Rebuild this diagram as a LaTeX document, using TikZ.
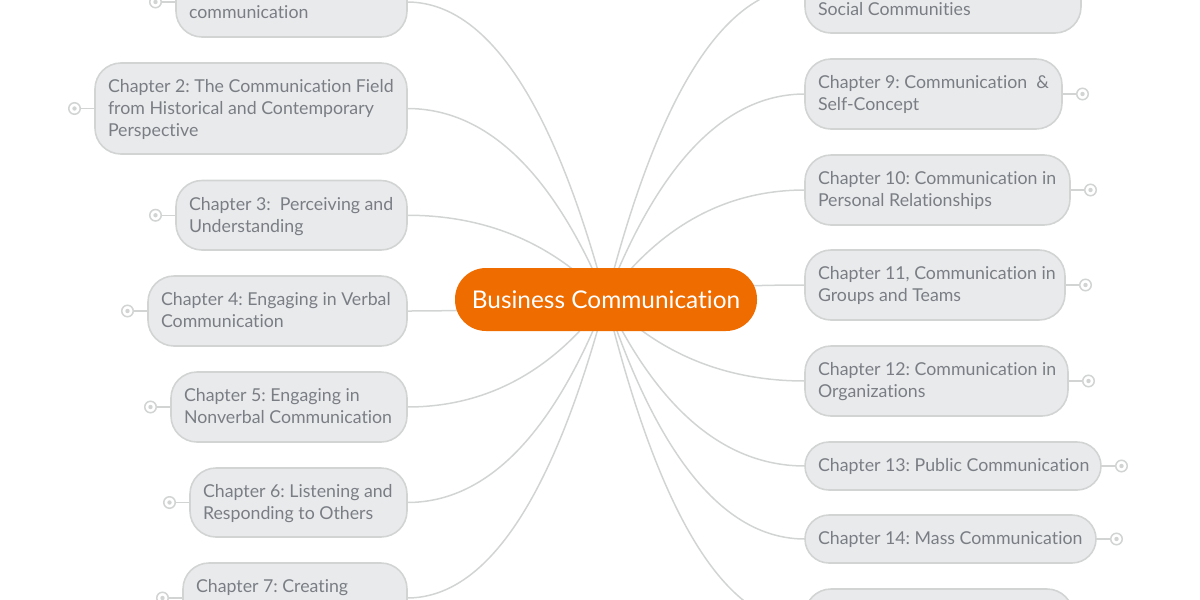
\documentclass[tikz,border=0pt]{standalone}
\usepackage{fontspec}
\setmainfont{Lato}[Ligatures=NoCommon]
\frenchspacing
\usetikzlibrary{calc,backgrounds}
\definecolor{boxfill}{HTML}{E9EAEC}
\definecolor{boxline}{HTML}{D2D4D4}
\definecolor{boxtext}{HTML}{7A7E84}
\definecolor{hubfill}{HTML}{EF6C00}
\tikzset{
  topic/.style={draw=boxline,fill=boxfill,line width=1.6pt,inner sep=0pt,outer sep=0pt,anchor=center},
  topiclabel/.style={text=boxtext,font=\fontsize{17.75}{22}\selectfont,align=flush left,inner sep=0pt,outer sep=0pt},
  hubnode/.style={fill=hubfill,rounded corners=31pt,inner sep=0pt,outer sep=0pt,text=white,
    font=\fontsize{24.4}{26}\selectfont,minimum width=302pt,minimum height=63pt},
  conn/.style={draw=boxline,line width=1.5pt},
  stub/.style={draw=boxline,line width=1.5pt},
  marker/.style={circle,draw=boxline,fill=white,line width=1.5pt,minimum size=11.5pt,inner sep=0pt,outer sep=0pt,
    path picture={\fill[boxline] (path picture bounding box.center) circle (2.2pt);}},
}
\newcommand{\tl}[1]{\leavevmode\strut\hbox{#1}}
% \topicnode{name}{left}{right}{top}{bottom}{text}
\newcommand{\topicnode}[6]{%
  \pgfmathsetmacro{\tw}{#3-#2}\pgfmathsetmacro{\th}{#5-#4}\pgfmathsetmacro{\tt}{#3-#2-27}%
  \pgfmathsetmacro{\tr}{min(26,(#5-#4)/2)}%
  \node[topic,rounded corners=\tr pt,minimum width=\tw pt,minimum height=\th pt] (#1) at ({(#2+#3)/2},{(#4+#5)/2}) {};
  \node[topiclabel,text width=\tt pt,xshift=-0.5pt,yshift=-1.5pt] (#1l) at (#1.center) {#6};}
\newcommand{\linkto}[2]{%
  \path let \p1=(hub.center),\p2=(#1.#2) in coordinate (c#1) at ({\x1+0.40*(\x2-\x1)},\y2);
  \draw[conn] (hub.center) .. controls ($(hub.center)!0.667!(c#1)$) and ($(#1.#2)!0.667!(c#1)$) .. (#1.#2);}
\newcommand{\lmark}[1]{%
  \node[marker] (m#1) at ($(#1.west)+(-20.5pt,0)$) {};
  \draw[stub] (#1.west) -- (m#1);}
\newcommand{\rmark}[1]{%
  \node[marker] (m#1) at ($(#1.east)+(20.5pt,0)$) {};
  \draw[stub] (#1.east) -- (m#1);}
\begin{document}
\begin{tikzpicture}[x=1pt,y=-1pt]
\useasboundingbox (0,0) rectangle (1200,600);
\clip (0,0) rectangle (1200,600);
\topicnode{a}{176}{407}{-33}{37}{\tl{\phantom{Xg}}\\\tl{communication}}
\topicnode{b}{95}{407}{63}{154}{\tl{Chapter 2: The Communication Field}\\\tl{from Historical and Contemporary}\\\tl{Perspective}}
\topicnode{c}{176}{407}{180.5}{250}{\tl{Chapter 3:\ \ Perceiving and}\\\tl{Understanding}}
\topicnode{d}{148}{407}{276}{346}{\tl{Chapter 4: Engaging in Verbal}\\\tl{Communication}}
\topicnode{e}{171}{407}{372}{442}{\tl{Chapter 5: Engaging in}\\\tl{Nonverbal Communication}}
\topicnode{f}{190}{407}{468}{537}{\tl{Chapter 6: Listening and}\\\tl{Responding to Others}}
\topicnode{g}{183}{407}{563}{633}{\tl{Chapter 7: Creating}\\\tl{\phantom{Xg}}}
\topicnode{h}{805}{1081}{-58}{33}{\tl{\phantom{Xg}}\\\tl{\phantom{Xg}}\\\tl{Social Communities}}
\topicnode{i}{805}{1062}{59}{129}{\tl{Chapter 9: Communication\ \ \&}\\\tl{Self-Concept}}
\topicnode{j}{805}{1070}{155}{225}{\tl{Chapter 10: Communication in}\\\tl{Personal Relationships}}
\topicnode{k}{805}{1065}{250}{320}{\tl{Chapter 11, Communication in}\\\tl{Groups and Teams}}
\topicnode{l}{805}{1068}{346}{416}{\tl{Chapter 12: Communication in}\\\tl{Organizations}}
\topicnode{m}{805}{1101}{442}{490}{\tl{Chapter 13: Public Communication}}
\topicnode{n}{805}{1096}{515}{563}{\tl{Chapter 14: Mass Communication}}
\topicnode{o}{805}{1073}{589}{659}{\tl{\phantom{Xg}}}
\node[hubnode] (hub) at (606,299.5) {Business Communication};
\begin{pgfonlayer}{background}
\foreach \q in {a,b,c,d,e,f,g}{\linkto{\q}{east}\lmark{\q}}
\foreach \q in {h,i,j,k,l,m,n,o}{\linkto{\q}{west}\rmark{\q}}
\end{pgfonlayer}
\end{tikzpicture}
\end{document}
